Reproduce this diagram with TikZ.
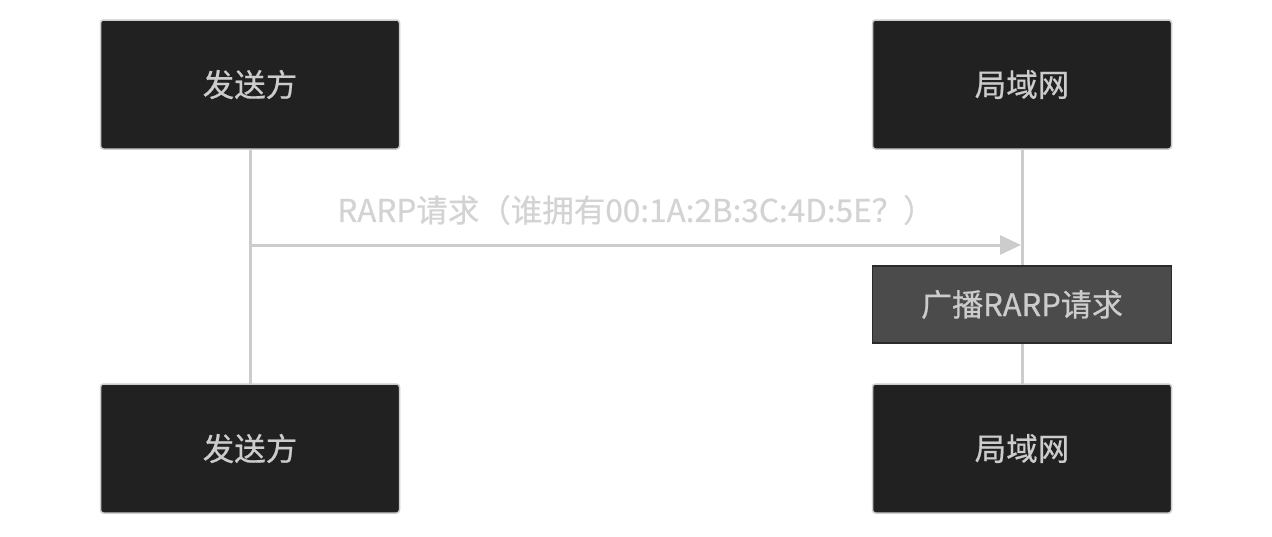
\documentclass[tikz,border=0pt]{standalone}
\usepackage{fontspec}
\setmainfont{Noto Sans CJK SC}[FakeBold=0.6]
\usetikzlibrary{arrows.meta}
\definecolor{actorfill}{HTML}{202120}
\definecolor{actorline}{HTML}{CCCCCC}
\definecolor{notefill}{HTML}{4A4B4A}
\definecolor{noteline}{HTML}{2A2A2A}
\definecolor{txt}{HTML}{CCCCCC}
\definecolor{msgtxt}{HTML}{D3D3D3}
\tikzset{
  actorbox/.style={draw=actorline, line width=1.5pt, fill=actorfill, rounded corners=3pt,
    minimum width=299pt, minimum height=129pt, inner sep=0pt, text=txt, font=\fontsize{31.5}{36}\selectfont},
  notebox/.style={draw=noteline, line width=1.5pt, fill=notefill,
    minimum width=299pt, minimum height=77pt, inner sep=0pt, text=txt, font=\fontsize{31}{36}\selectfont},
  lifeline/.style={draw=actorline, line width=3pt},
  msg/.style={draw=actorline, line width=3pt, -{Triangle[length=21pt,width=19pt]}},
  msglabel/.style={text=msgtxt, font=\fontsize{31.5}{36}\selectfont, inner sep=0pt}
}
\begin{document}
\begin{tikzpicture}[x=1pt,y=-1pt]
\useasboundingbox (0,0) rectangle (1272,536);
% lifelines
\coordinate (sTop) at (250,149);
\coordinate (sBot) at (250,384);
\coordinate (lTop) at (1022,149);
\coordinate (lBot) at (1022,384);
\draw[lifeline] (sTop) -- (sBot);
\draw[lifeline] (lTop) -- (lBot);
% actors
\node[actorbox] (s1) at (250,84.5) {发送方};
\node[actorbox] (l1) at (1022,84.5) {局域网};
\node[actorbox] (s2) at (250,448.5) {发送方};
\node[actorbox] (l2) at (1022,448.5) {局域网};
% message
\coordinate (mS) at (250,245);
\coordinate (mE) at (1021,245);
\draw[msg] (mS) -- (mE);
\node[msglabel] (ml) at (636,210) {RARP请求（谁拥有00:1A:2B:3C:4D:5E？）};
% note
\node[notebox] (n1) at (1022,304.5) {广播RARP请求};
\end{tikzpicture}
\end{document}
